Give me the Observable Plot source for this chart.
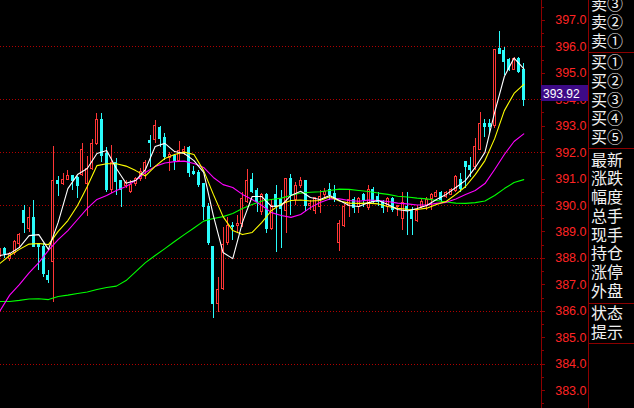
<!DOCTYPE html>
<html><head><meta charset="utf-8">
<script src="https://cdn.jsdelivr.net/npm/d3@7"></script>
<script src="https://cdn.jsdelivr.net/npm/@observablehq/plot@0.6"></script>
<style>
html,body{margin:0;padding:0;background:#000;overflow:hidden;}
#chart{position:absolute;left:0;top:0;width:634px;height:408px;}
</style></head><body><div id="chart"></div>
<script>
// ---- candle data (index = bar number, left to right) ----
const opens = [388.04,388.36,387.98,388.20,388.55,389.81,389.12,389.51,388.55,388.42,
 387.35,387.85,390.92,390.80,390.97,391.10,391.03,391.17,390.82,391.39,
 392.33,393.22,391.96,390.59,391.60,390.91,390.75,390.50,390.82,391.02,
 391.30,392.44,392.49,392.94,392.55,391.80,391.89,391.68,392.02,392.17,
 391.26,391.22,390.82,389.96,388.42,386.26,386.85,388.57,389.24,389.21,
 389.31,390.12,390.97,390.54,389.75,390.38,389.12,390.38,390.23,389.81,
 391.01,390.19,390.72,390.91,390.00,389.81,389.93,390.38,390.57,390.45,
 388.57,389.24,390.00,390.21,389.93,390.38,389.90,390.59,390.32,390.15,
 389.93,390.25,389.93,389.50,389.94,389.81,389.43,389.94,390.00,390.25,
 390.34,390.47,390.32,390.40,390.53,390.98,391.64,391.49,391.44,392.11,
 393.09,393.09,392.99,395.93,395.83,395.49,395.13,395.55,395.11];
const highs = [388.45,388.40,388.23,388.68,388.94,390.00,389.91,390.19,388.57,388.55,
 387.54,392.23,391.10,391.22,391.32,391.13,391.10,392.33,391.85,392.49,
 393.47,393.47,392.21,392.27,391.77,390.95,390.95,390.95,391.07,391.40,
 391.70,392.65,393.22,392.99,392.71,392.02,391.93,392.43,392.23,392.23,
 391.48,391.32,390.84,390.06,388.45,387.29,389.18,389.56,389.37,389.62,
 390.50,391.35,391.20,390.63,390.44,390.44,390.19,390.76,390.57,391.02,
 391.17,390.88,391.06,390.93,390.19,390.32,390.57,390.65,390.82,390.76,
 389.43,390.04,390.57,390.32,390.32,390.44,390.76,390.69,390.50,390.19,
 390.32,390.32,390.00,390.51,390.51,389.94,390.00,390.26,390.30,390.44,
 390.57,390.53,390.53,390.63,391.13,391.20,391.66,391.80,392.52,393.53,
 393.25,393.25,395.90,396.58,395.99,395.57,395.61,395.61,395.36];
const lows = [387.84,387.98,387.89,388.11,388.42,388.95,388.99,388.40,387.54,387.29,
 387.04,386.34,390.34,390.76,390.95,390.57,390.28,391.10,389.58,391.32,
 392.27,391.64,390.50,390.44,390.38,389.93,390.63,390.47,390.72,390.90,
 391.00,391.45,392.33,392.21,391.71,391.30,391.32,391.64,391.89,391.07,
 391.13,390.67,389.43,388.49,385.71,385.96,386.78,388.49,388.68,388.99,
 389.18,390.06,390.44,389.75,389.62,388.93,389.06,388.23,388.37,388.94,
 389.62,390.00,390.64,389.79,389.81,389.66,389.69,390.26,390.19,390.12,
 388.27,389.18,389.56,389.69,389.71,389.93,389.81,390.09,389.96,389.69,
 389.75,389.75,389.58,389.05,388.87,388.87,389.36,389.89,389.81,389.81,
 390.30,390.12,390.26,390.38,390.50,390.50,390.64,391.07,391.32,392.08,
 392.58,392.67,392.90,395.72,394.92,395.07,395.10,394.98,393.75];
const closes = [388.36,388.15,388.15,388.61,388.87,389.33,389.53,388.42,388.42,387.42,
 387.19,390.91,390.82,390.98,391.10,390.91,390.72,392.11,391.39,392.33,
 393.22,391.89,390.59,391.60,390.88,390.59,390.84,390.79,391.00,391.26,
 391.62,392.36,392.99,392.52,391.83,391.92,391.68,392.08,392.11,391.22,
 391.20,390.79,389.96,388.57,386.26,386.82,388.52,389.24,389.18,389.31,
 390.25,390.91,390.50,390.12,390.38,389.12,390.00,389.94,389.85,391.01,
 390.38,390.72,390.92,390.00,390.07,390.27,390.32,390.50,390.38,390.30,
 389.31,389.96,390.19,389.91,390.25,390.19,390.57,390.12,390.12,389.91,
 390.25,389.84,390.00,390.08,389.81,389.50,389.81,390.13,390.21,390.38,
 390.49,390.19,390.47,390.57,391.07,390.63,391.45,391.36,392.23,393.09,
 392.96,392.96,395.89,395.74,395.42,395.11,395.55,395.04,394.00];

// ---- moving-average lines, read every 2nd bar (bars 0,2,4,...,108) ----
const maStep = 2;
const ma5 = [388.11,388.18,388.41,388.86,388.90,388.34,389.36,390.64,391.17,391.40,
 391.97,392.08,391.40,390.84,390.95,391.36,392.23,392.35,392.04,391.97,
 391.70,391.25,389.62,388.22,387.99,389.36,390.34,390.34,389.96,390.00,
 390.38,390.54,390.30,390.23,390.38,390.19,390.00,389.96,390.11,390.19,
 390.04,389.85,389.79,389.89,390.00,390.23,390.42,390.68,390.95,391.44,
 392.01,393.52,394.88,395.58,395.18];
const ma10 = [387.81,388.11,388.34,388.54,388.56,388.52,389.02,389.43,390.00,390.72,
 391.51,391.58,391.58,391.49,391.32,391.12,391.48,391.78,391.93,392.02,
 391.93,391.32,390.42,389.58,389.05,388.90,388.98,389.36,389.81,390.06,
 390.19,390.21,390.17,390.19,390.33,390.17,390.09,390.08,390.09,390.06,
 389.96,389.89,389.86,389.85,389.90,390.04,390.15,390.42,390.72,391.17,
 391.70,392.53,393.59,394.24,394.58];
const ma20 = [386.01,386.61,387.01,387.45,387.84,388.30,388.71,389.05,389.47,389.89,
 390.23,390.38,390.57,390.72,390.95,391.25,391.48,391.61,391.66,391.68,
 391.59,391.44,391.06,390.79,390.68,390.42,390.23,390.00,389.73,389.62,
 389.55,389.66,389.92,390.11,390.25,390.25,390.19,390.16,390.21,390.19,
 390.15,390.09,390.06,390.02,390.02,390.08,390.12,390.25,390.42,390.57,
 390.83,391.36,391.93,392.42,392.71];
const ma60 = [386.37,386.37,386.41,386.46,386.47,386.44,386.56,386.61,386.67,386.73,
 386.82,386.90,386.95,387.16,387.50,387.84,388.11,388.37,388.64,388.90,
 389.15,389.41,389.51,389.58,389.70,389.89,390.04,390.17,390.23,390.28,
 390.38,390.47,390.50,390.52,390.57,390.62,390.61,390.57,390.53,390.47,
 390.42,390.35,390.32,390.28,390.25,390.19,390.13,390.09,390.08,390.11,
 390.17,390.38,390.64,390.87,390.98];

// ---- axis / labels ----
const priceTicks = [397,396,395,394,393,392,391,390,389,388,387,386,385,384,383];
const halfTicks = [397.5,396.5,395.5,394.5,393.5,392.5,391.5,390.5,389.5,388.5,387.5,386.5,385.5,384.5,383.5,382.5];
const gridLevels = [396,394,392,390,388,386,384];
const lastPrice = 393.92;
const panelRows = ["卖③","卖②","卖①","买①","买②","买③","买④","买⑤",
  "最新","涨跌","幅度","总手","现手","持仓","涨停","外盘","状态","提示"];

// ---- build ----
const RED = "#ff3636", CYAN = "#2afcfc", AXIS = "#8c0000", GRID = "#b00000";
const candles = opens.map((o, i) => ({i, open: o, high: highs[i], low: lows[i], close: closes[i]}));
const up = candles.filter(d => d.close >= d.open);
const down = candles.filter(d => d.close < d.open);
const maSeries = (arr) => arr.map((v, k) => ({i: k * maStep, v}));
const xMin = 0.11, xMax = 111.66;

const chart = Plot.plot({
  width: 634, height: 408,
  marginLeft: 0, marginRight: 93, marginTop: 0, marginBottom: 0,
  style: {background: "#000", color: "#fff", overflow: "visible", fontFamily: "Liberation Sans, Arial, sans-serif"},
  x: {domain: [xMin, xMax], axis: null},
  y: {domain: [382.32, 397.756], axis: null},
  marks: [
    Plot.ruleY(gridLevels, {x1: xMin, x2: xMax, stroke: GRID, strokeDasharray: "1,2", shapeRendering: "crispEdges"}),
    Plot.ruleX(down, {x: "i", y1: "low", y2: "high", stroke: CYAN, shapeRendering: "crispEdges"}),
    Plot.ruleX(up, {x: "i", y1: "low", y2: "high", stroke: RED, shapeRendering: "crispEdges"}),
    Plot.rect(down, {x1: "i", x2: "i", y1: "open", y2: "close", fill: CYAN,
      insetLeft: -1.5, insetRight: -1.5, insetTop: -0.5, insetBottom: -0.5, shapeRendering: "crispEdges"}),
    Plot.rect(up, {x1: "i", x2: "i", y1: "open", y2: "close", fill: "#000", stroke: RED, strokeWidth: 1,
      insetLeft: -1, insetRight: -1, shapeRendering: "crispEdges"}),
    Plot.line(maSeries(ma60), {x: "i", y: "v", stroke: "#00ff00", strokeWidth: 1.1}),
    Plot.line(maSeries(ma20), {x: "i", y: "v", stroke: "#ff00ff", strokeWidth: 1.1}),
    Plot.line(maSeries(ma10), {x: "i", y: "v", stroke: "#ffff00", strokeWidth: 1.1}),
    Plot.line(maSeries(ma5), {x: "i", y: "v", stroke: "#ffffff", strokeWidth: 1.1}),
    // right price axis
    Plot.ruleX([xMax], {stroke: AXIS, shapeRendering: "crispEdges"}),
    Plot.ruleY(priceTicks, {x1: xMax, x2: xMax, insetRight: -4, stroke: AXIS, shapeRendering: "crispEdges"}),
    Plot.ruleY(halfTicks, {x1: xMax, x2: xMax, insetRight: -2.5, stroke: AXIS, shapeRendering: "crispEdges"}),
    Plot.text(priceTicks, {x: xMax, y: d => d, text: d => d.toFixed(1), textAnchor: "end", dx: 45,
      fill: "#ff2424", fontSize: 12.5}),
    // latest price tag
    Plot.rect([lastPrice], {x1: xMax, x2: xMax, y1: d => d, y2: d => d, insetLeft: 0, insetRight: -47,
      insetTop: -16.5, fill: "#3d0a86", shapeRendering: "crispEdges"}),
    Plot.text([lastPrice], {x: xMax, y: d => d, text: d => d.toFixed(2), textAnchor: "start", dx: 1.5, dy: -8,
      fill: "#ffffff", fontSize: 12})
  ]
});
document.getElementById("chart").appendChild(chart);

// ---- right-hand quote panel ----
const svg = d3.select(chart);
const panel = svg.append("g").attr("text-anchor", "start");
const panelX = 588.5;
panel.append("line").attr("x1", panelX).attr("x2", panelX).attr("y1", 0).attr("y2", 408)
  .attr("stroke", AXIS);
[52.5, 148.5, 303.5, 343.5].forEach(y => panel.append("line").attr("x1", panelX).attr("x2", 634)
  .attr("y1", y).attr("y2", y).attr("stroke", AXIS));
const rowY = [4, 22.5, 41.5, 62, 81, 100, 118.5, 137.5, 160, 178.5, 197.5, 216.5, 235, 253.5, 272.5, 291.5, 313, 332];
panel.selectAll("text.row").data(panelRows).join("text")
  .attr("class", "row")
  .attr("x", 591).attr("y", (d, k) => rowY[k]).attr("dy", "0.36em")
  .attr("text-anchor", "start")
  .attr("fill", "#f2f2f2").attr("font-size", 16)
  .attr("font-family", "'Noto Sans CJK SC', sans-serif")
  .text(d => d);
</script>
</body></html>
